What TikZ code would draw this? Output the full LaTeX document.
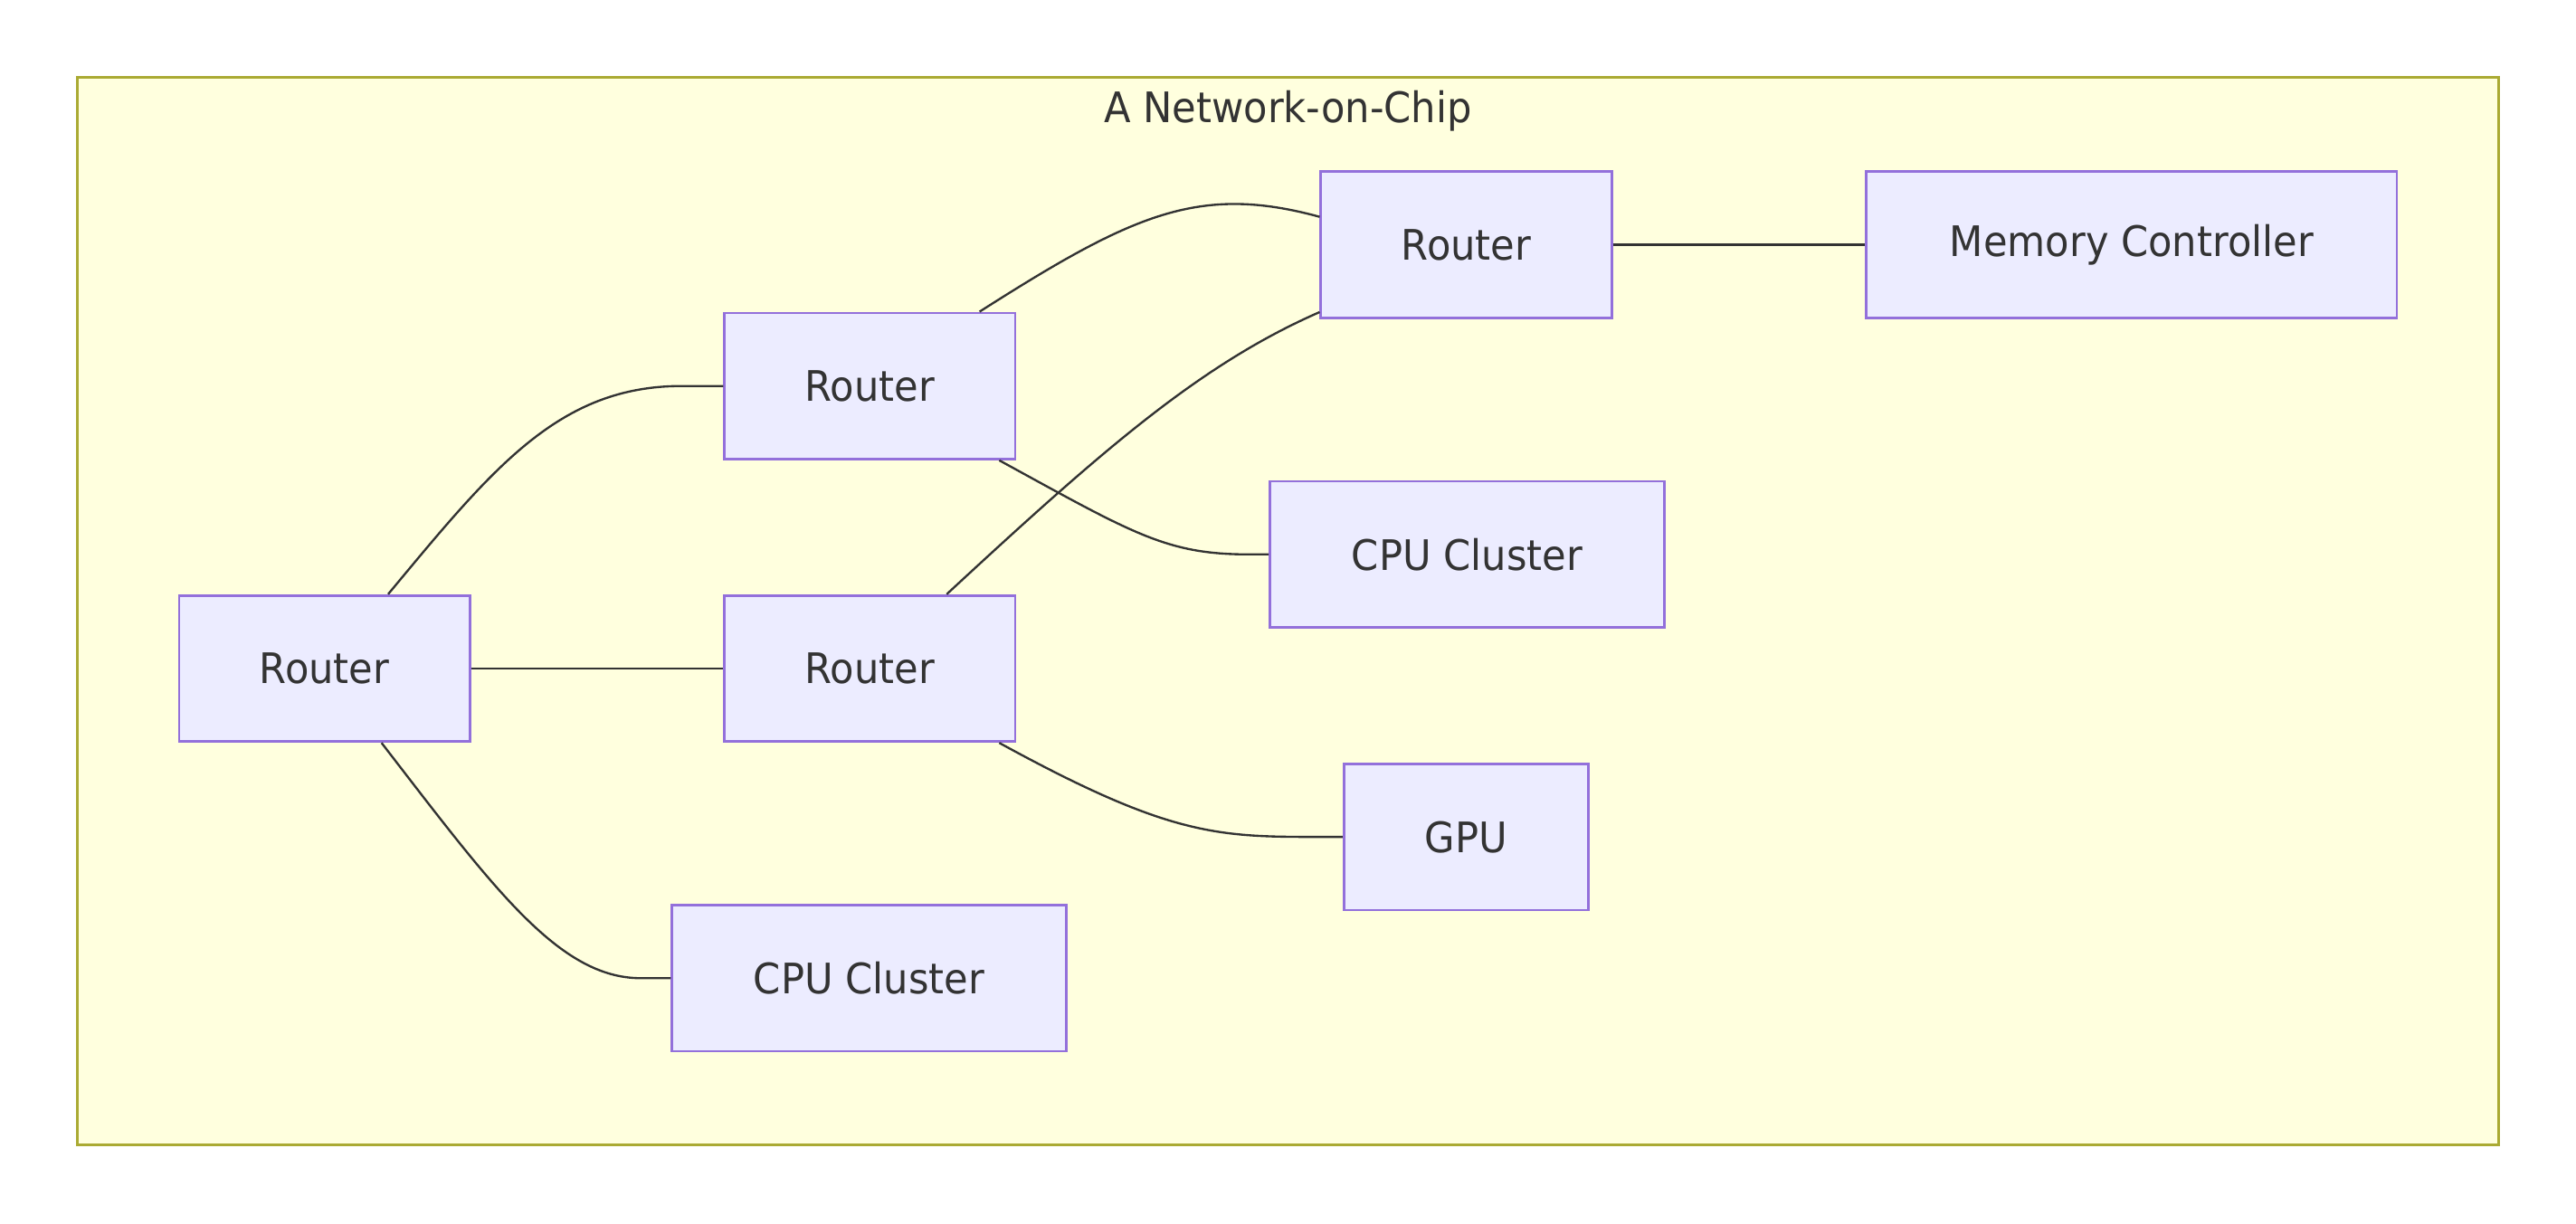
\documentclass[tikz,border=0pt]{standalone}
\usepackage{fontspec}
\setmainfont{DejaVu Sans}[FakeStretch=0.93]
\definecolor{nodefill}{HTML}{ECECFF}
\definecolor{nodestroke}{HTML}{9370DB}
\definecolor{clfill}{HTML}{FFFFDE}
\definecolor{clstroke}{HTML}{AAAA33}
\definecolor{txt}{HTML}{333333}
\tikzset{
  box/.style={draw=nodestroke, fill=nodefill, line width=1.5pt, minimum height=89pt, inner sep=0pt, text=txt, font=\fontsize{25.6pt}{30pt}\selectfont},
  link/.style={draw=txt, line width=1.3pt},
}
\begin{document}
\begin{tikzpicture}[x=1pt,y=-1pt]
\useasboundingbox (0,0) rectangle (1568,745);
\fill[white] (0,0) rectangle (1568,745);
\node[draw=clstroke, fill=clfill, line width=1.4pt, minimum width=1474pt, minimum height=650pt, inner sep=0pt] (cluster) at (784,372) {};
\node[text=txt, font=\fontsize{25.6pt}{30pt}\selectfont] (title) at (784,67.5) {A Network-on-Chip};
\node[box, minimum width=177pt] (r1) at (197.5,407) {Router};
\node[box, minimum width=177pt] (r2) at (529.5,235) {Router};
\node[box, minimum width=177pt] (r3) at (529.5,407) {Router};
\node[box, minimum width=240pt] (cpu1) at (529,595.5) {CPU Cluster};
\node[box, minimum width=177pt] (r4) at (892.5,149) {Router};
\node[box, minimum width=240pt] (cpu2) at (893,337.5) {CPU Cluster};
\node[box, minimum width=149pt] (gpu) at (892.5,509.5) {GPU};
\node[box, minimum width=323pt] (mem) at (1297.5,149) {Memory Controller};
% edges
\draw[link] (r1.north west) ++(128,0) coordinate (a1) .. controls (300,285) and (340,235) .. (415,235) -- (r2.west);
\draw[link] (r1.east) -- (r3.west);
\draw[link] (r1.south west) ++(124,0) coordinate (a2) .. controls (300,540) and (340,595.5) .. (390,595.5) -- (cpu1.west);
\draw[link] (r2.north west) ++(156,0) coordinate (a3) .. controls (690,130) and (730,112) .. (r4.north west |- 0,132);
\draw[link] (r2.south west) ++(168,0) coordinate (a4) .. controls (690,325) and (710,337.5) .. (760,337.5) -- (cpu2.west);
\draw[link] (r3.north west) ++(136,0) coordinate (a5) .. controls (670,275) and (730,222) .. (r4.south west |- 0,190);
\draw[link] (r3.south west) ++(168,0) coordinate (a6) .. controls (710,508) and (740,509.5) .. (800,509.5) -- (gpu.west);
\draw[link] (r4.east) -- (mem.west);
\end{tikzpicture}
\end{document}
